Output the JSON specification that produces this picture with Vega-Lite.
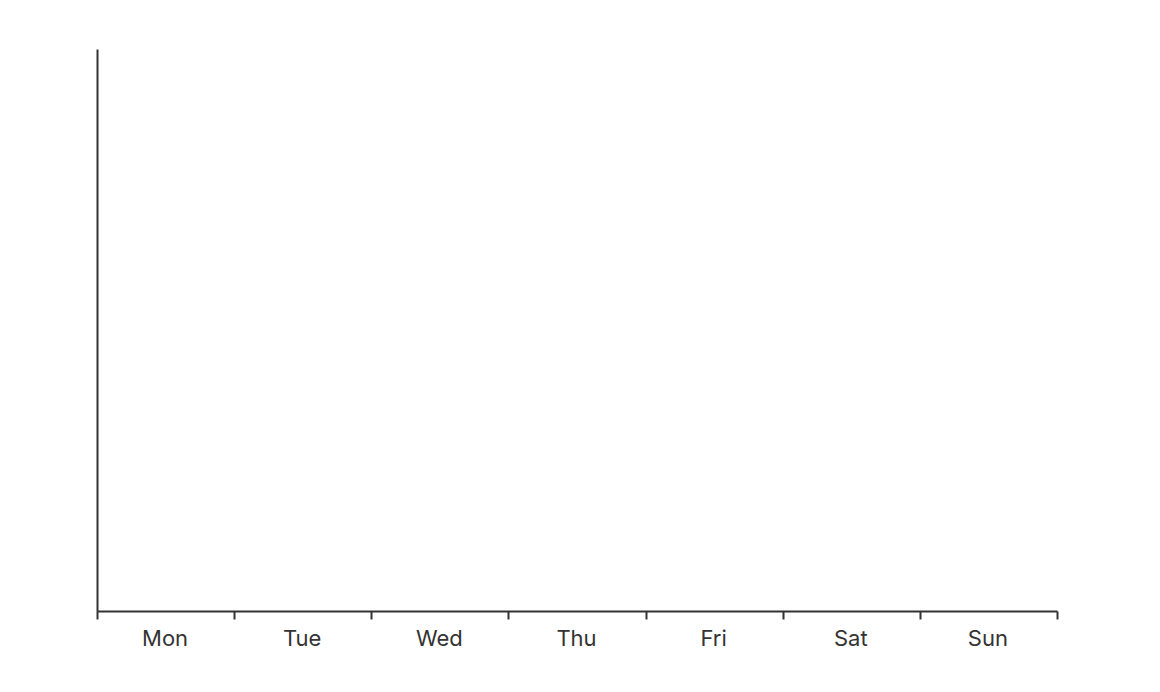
{
  "$schema": "https://vega.github.io/schema/vega-lite/v6.json",
  "width": 960,
  "height": 562,
  "autosize": {"type": "none"},
  "padding": {"left": 97, "top": 49, "right": 103, "bottom": 81},
  "background": "white",
  "data": {
    "values": [
      {"day": "Mon", "value": 0},
      {"day": "Tue", "value": 0},
      {"day": "Wed", "value": 0},
      {"day": "Thu", "value": 0},
      {"day": "Fri", "value": 0},
      {"day": "Sat", "value": 0},
      {"day": "Sun", "value": 0}
    ]
  },
  "mark": {"type": "bar", "color": "#5470c6"},
  "encoding": {
    "x": {
      "field": "day",
      "type": "nominal",
      "sort": null,
      "scale": {"paddingInner": 0, "paddingOuter": 0},
      "axis": {
        "title": null,
        "labelAngle": 0,
        "tickBand": "extent",
        "domainColor": "#333333",
        "domainWidth": 2,
        "tickColor": "#333333",
        "tickWidth": 2,
        "tickSize": 8,
        "labelColor": "#333333",
        "labelFont": "Inter",
        "labelFontSize": 22,
        "labelPadding": 9,
        "labelOffset": -1,
        "grid": false
      }
    },
    "y": {
      "field": "value",
      "type": "quantitative",
      "scale": {"domain": [0, 1]},
      "axis": {
        "title": null,
        "labels": false,
        "ticks": false,
        "grid": false,
        "domainColor": "#333333",
        "domainWidth": 2
      }
    }
  },
  "config": {"view": {"stroke": null}}
}
